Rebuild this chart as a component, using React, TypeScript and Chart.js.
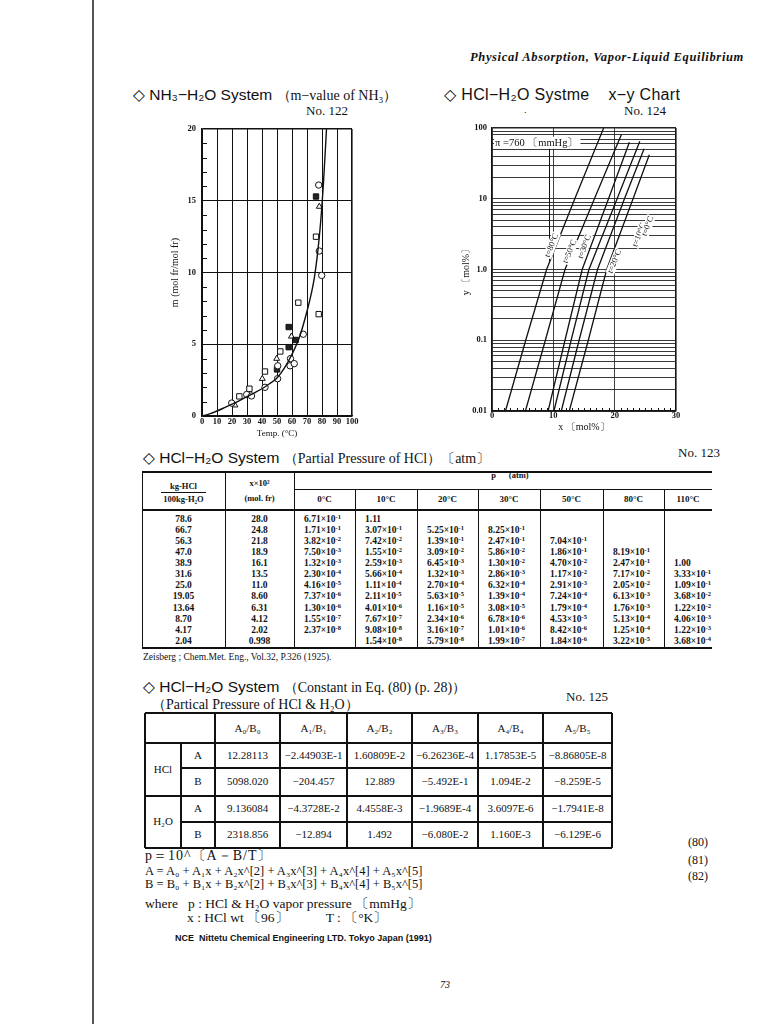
import React, { useEffect, useRef } from 'react';
import { Chart, registerables } from 'chart.js';

Chart.register(...registerables);

const SERIF = '"Liberation Serif", "DejaVu Serif", serif';
const SANS = '"Liberation Sans", "DejaVu Sans", sans-serif';

// ---------------- NH3 - H2O chart (No. 122) ----------------
const nh3CurveTemp = [0, 5, 10, 15, 20, 25, 30, 35, 40, 45, 50, 55, 60, 65, 70, 73, 75, 77, 79, 81, 83];
const nh3CurveM = [0, 0.15, 0.35, 0.58, 0.82, 1.08, 1.35, 1.62, 1.9, 2.25, 2.65, 3.35, 4.3, 5.5, 7.3, 8.6, 9.7, 11.3, 13.4, 16.3, 20];
const nh3CircleTemp = [19.8, 29.8, 33, 42, 50.5, 50.4, 59, 58.7, 61.5, 67.5, 79.8, 78.2, 77.8];
const nh3CircleM = [0.9, 1.5, 1.4, 2.0, 3.5, 2.6, 4.0, 3.5, 3.65, 5.7, 9.8, 11.5, 16.1];
const nh3SquareTemp = [24.9, 31.6, 42, 52.2, 64.2, 77.8, 76];
const nh3SquareM = [1.37, 1.9, 3.1, 4.5, 7.9, 7.1, 12.5];
const nh3FilledTemp = [50, 57.8, 57.8, 62.4, 76];
const nh3FilledM = [3.25, 6.2, 4.8, 5.3, 15.3];
const nh3TriTemp = [22, 40.2, 49.8, 59.6, 78.2];
const nh3TriM = [0.75, 2.6, 4.0, 5.55, 14.6];

// ---------------- HCl - H2O x-y chart (No. 124) ----------------
const hcl80X = [2.2, 5.5, 8.9, 13.5, 18.2];
const hcl80Y = [0.01, 0.1, 1, 10, 100];
const hcl50X = [5.45, 8.7, 11.9, 16.7, 21.1];
const hcl50Y = [0.01, 0.1, 1, 10, 81];
const hcl30X = [9.15, 11.9, 14.7, 19.0, 22.4];
const hcl30Y = [0.01, 0.1, 1, 10, 63];
const hcl20X = [10.1, 12.9, 15.8, 20.4, 24.1];
const hcl20Y = [0.01, 0.1, 1, 10, 65];
const hcl10X = [11.3, 14.2, 17.2, 21.6, 24.8];
const hcl10Y = [0.01, 0.1, 1, 10, 51];
const hcl0X = [12.6, 15.7, 18.7, 23.0, 25.65];
const hcl0Y = [0.01, 0.1, 1, 10, 42];
const hclLabelText = ['t=80°C', 't=50°C', 't=30°C', 't=20°C', 't=10°C', 't=0°C'];
const hclLabelX = [9.75, 12.7, 15.1, 20.0, 24.0, 25.4];
const hclLabelY = [2.2, 1.8, 2.1, 1.3, 3.1, 4.1];
const hclYTickValues = [0.01, 0.1, 1, 10, 100];
const hclYTickLabels = ['0.01', '0.1', '1.0', '10', '100'];
const hclXTickLabels = [0, 10, 20, 30];
const hclPiText = 'π =760 〔mmHg〕';
const hclPiX = 0.5;
const hclPiY = 62;
const hclPiLeaderX = 9.3;
const hclPiLeaderY = [52, 1.3];

// ---------------- Table No. 123 ----------------
const t1Kg = ['78.6', '66.7', '56.3', '47.0', '38.9', '31.6', '25.0', '19.05', '13.64', '8.70', '4.17', '2.04'];
const t1MolFr = ['28.0', '24.8', '21.8', '18.9', '16.1', '13.5', '11.0', '8.60', '6.31', '4.12', '2.02', '0.998'];
const t1Temps = ['0°C', '10°C', '20°C', '30°C', '50°C', '80°C', '110°C'];
const p0C = ['6.71e-1', '1.71e-1', '3.82e-2', '7.50e-3', '1.32e-3', '2.30e-4', '4.16e-5', '7.37e-6', '1.30e-6', '1.55e-7', '2.37e-8', ''];
const p10C = ['1.11', '3.07e-1', '7.42e-2', '1.55e-2', '2.59e-3', '5.66e-4', '1.11e-4', '2.11e-5', '4.01e-6', '7.67e-7', '9.08e-8', '1.54e-8'];
const p20C = ['', '5.25e-1', '1.39e-1', '3.09e-2', '6.45e-3', '1.32e-3', '2.70e-4', '5.63e-5', '1.16e-5', '2.34e-6', '3.16e-7', '5.79e-8'];
const p30C = ['', '8.25e-1', '2.47e-1', '5.86e-2', '1.30e-2', '2.86e-3', '6.32e-4', '1.39e-4', '3.08e-5', '6.78e-6', '1.01e-6', '1.99e-7'];
const p50C = ['', '', '7.04e-1', '1.86e-1', '4.70e-2', '1.17e-2', '2.91e-3', '7.24e-4', '1.79e-4', '4.53e-5', '8.42e-6', '1.84e-6'];
const p80C = ['', '', '', '8.19e-1', '2.47e-1', '7.17e-2', '2.05e-2', '6.13e-3', '1.76e-3', '5.13e-4', '1.25e-4', '3.22e-5'];
const p110C = ['', '', '', '', '1.00', '3.33e-1', '1.09e-1', '3.68e-2', '1.22e-2', '4.06e-3', '1.22e-3', '3.68e-4'];

// ---------------- Table No. 125 ----------------
const t2Headers = ['A₀/B₀', 'A₁/B₁', 'A₂/B₂', 'A₃/B₃', 'A₄/B₄', 'A₅/B₅'];
const hclA = ['12.28113', '−2.44903E-1', '1.60809E-2', '−6.26236E-4', '1.17853E-5', '−8.86805E-8'];
const hclB = ['5098.020', '−204.457', '12.889', '−5.492E-1', '1.094E-2', '−8.259E-5'];
const h2oA = ['9.136084', '−4.3728E-2', '4.4558E-3', '−1.9689E-4', '3.6097E-6', '−1.7941E-8'];
const h2oB = ['2318.856', '−12.894', '1.492', '−6.080E-2', '1.160E-3', '−6.129E-6'];

const pts = (xs: number[], ys: number[]) => xs.map((x, i) => ({ x, y: ys[i] }));

// ---------- layout helpers ----------
function Txt(props: any) {
  const { x, y, size, family = SERIF, weight = 400, italic = false, spacing = 0, color = '#111', children, align } = props;
  const style: any = {
    position: 'absolute', top: y - size * 0.6, fontSize: size, lineHeight: `${size * 1.2}px`,
    fontFamily: family, fontWeight: weight, fontStyle: italic ? 'italic' : 'normal',
    whiteSpace: 'nowrap', letterSpacing: spacing, color,
  };
  if (align === 'center') { style.left = x - 100; style.width = 200; style.textAlign = 'center'; }
  else style.left = x;
  return <div style={style}>{children}</div>;
}

function HLine({ x1, x2, y, w = 1 }: any) {
  return <div style={{ position: 'absolute', left: x1, top: y - w / 2, width: x2 - x1, height: w, background: '#111' }} />;
}
function VLine({ x, y1, y2, w = 1, color = '#111' }: any) {
  return <div style={{ position: 'absolute', left: x - w / 2, top: y1, width: w, height: y2 - y1, background: color }} />;
}

function sci(v: string) {
  if (!v) return null;
  const [m, e] = v.split('e');
  if (!e) return m;
  return (
    <>
      {m}×10<span style={{ fontSize: 6.5, position: 'relative', top: -3, lineHeight: 0 }}>{e}</span>
    </>
  );
}

// ---------- NH3 chart ----------
function NH3Chart() {
  const ref = useRef<HTMLCanvasElement>(null);
  useEffect(() => {
    const innerTicks = {
      id: 'nh3InnerTicks',
      afterDraw(chart: any) {
        const { ctx, chartArea } = chart;
        const ys = chart.scales.y;
        ctx.save();
        ctx.strokeStyle = '#111';
        ctx.lineWidth = 1;
        ys.ticks.forEach((t: any) => {
          if (t.value % 5 === 0) return;
          const p = Math.round(ys.getPixelForValue(t.value)) + 0.5;
          ctx.beginPath();
          ctx.moveTo(chartArea.left, p);
          ctx.lineTo(chartArea.left + 5, p);
          ctx.stroke();
        });
        ctx.restore();
      },
    };
    const tickFont = { family: SERIF, size: 8.5, weight: 'bold' as const };
    const chart = new Chart(ref.current!, {
      type: 'scatter',
      data: {
        datasets: [
          { type: 'line', data: pts(nh3CurveTemp, nh3CurveM), borderColor: '#111', borderWidth: 1.4, pointRadius: 0, cubicInterpolationMode: 'monotone', fill: false } as any,
          { data: pts(nh3CircleTemp, nh3CircleM), pointStyle: 'circle', pointRadius: 3.2, backgroundColor: '#fff', borderColor: '#111', borderWidth: 1 },
          { data: pts(nh3SquareTemp, nh3SquareM), pointStyle: 'rect', pointRadius: 3.8, backgroundColor: '#fff', borderColor: '#111', borderWidth: 1 },
          { data: pts(nh3FilledTemp, nh3FilledM), pointStyle: 'rect', pointRadius: 3.8, backgroundColor: '#222', borderColor: '#111', borderWidth: 1 },
          { data: pts(nh3TriTemp, nh3TriM), pointStyle: 'triangle', pointRadius: 3.4, backgroundColor: '#fff', borderColor: '#111', borderWidth: 1 },
        ],
      },
      options: {
        responsive: false,
        animation: false,
        layout: { padding: { left: 0, top: 7, right: 8, bottom: 0 }, autoPadding: false },
        plugins: { legend: { display: false }, tooltip: { enabled: false } },
        scales: {
          x: {
            type: 'linear', min: 0, max: 100,
            afterFit: (s: any) => { s.height = 32; },
            ticks: { stepSize: 10, padding: 1, font: tickFont, color: '#111', autoSkip: false, maxRotation: 0 },
            grid: { color: '#111', lineWidth: (c: any) => (c.tick && c.tick.value === 100 ? 1.6 : 1), drawTicks: false },
            border: { color: '#111', width: 1.6 },
            title: { display: true, text: 'Temp. (°C)', color: '#111', font: { family: SERIF, size: 9 }, padding: { top: 0, bottom: 9 } },
          },
          y: {
            type: 'linear', min: 0, max: 20,
            afterFit: (s: any) => { s.width = 42; },
            ticks: { stepSize: 1, padding: 6, autoSkip: false, font: tickFont, color: '#111', callback: (v: any) => (v % 5 === 0 ? String(v) : '') },
            grid: {
              color: (c: any) => (c.tick && c.tick.value % 5 === 0 ? '#111' : 'rgba(0,0,0,0)'),
              lineWidth: (c: any) => (c.tick && c.tick.value === 20 ? 1.6 : 1),
              drawTicks: false,
            },
            border: { color: '#111', width: 1.6 },
            title: { display: true, text: 'm (mol fr/mol fr)', color: '#111', font: { family: SERIF, size: 10 }, padding: { top: 9, bottom: 0 } },
          },
        },
      },
      plugins: [innerTicks],
    });
    return () => chart.destroy();
  }, []);
  return <canvas ref={ref} width={200} height={330} style={{ position: 'absolute', left: 160, top: 118 }} />;
}

// ---------- HCl x-y chart ----------
function HClChart() {
  const ref = useRef<HTMLCanvasElement>(null);
  useEffect(() => {
    const gridValues: number[] = [];
    hclYTickValues.slice(0, -1).forEach((d) => {
      for (let m = 1; m <= 9; m++) gridValues.push(m === 1 ? d : d * m);
    });
    gridValues.push(hclYTickValues[hclYTickValues.length - 1]);

    const decor = {
      id: 'hclDecor',
      afterDatasetsDraw(chart: any) {
        const { ctx, chartArea } = chart;
        const xs = chart.scales.x;
        const ys = chart.scales.y;
        ctx.save();
        ctx.strokeStyle = '#111';
        ctx.lineWidth = 1;
        xs.ticks.forEach((t: any) => {
          if (t.value % 10 === 0) return;
          const p = Math.round(xs.getPixelForValue(t.value)) + 0.5;
          ctx.beginPath();
          ctx.moveTo(p, chartArea.bottom);
          ctx.lineTo(p, chartArea.bottom - 3);
          ctx.stroke();
        });
        const lx = Math.round(xs.getPixelForValue(hclPiLeaderX)) + 0.5;
        ctx.beginPath();
        ctx.moveTo(lx, ys.getPixelForValue(hclPiLeaderY[0]));
        ctx.lineTo(lx, ys.getPixelForValue(hclPiLeaderY[1]));
        ctx.stroke();
        ctx.font = `10.5px ${SERIF}`;
        const px = xs.getPixelForValue(hclPiX);
        const py = ys.getPixelForValue(hclPiY);
        const w = ctx.measureText(hclPiText).width;
        ctx.fillStyle = '#fff';
        ctx.fillRect(px - 1, py - 6, w + 3, 12);
        ctx.fillStyle = '#111';
        ctx.textBaseline = 'middle';
        ctx.textAlign = 'left';
        ctx.fillText(hclPiText, px, py);
        ctx.font = `8.5px ${SERIF}`;
        hclLabelText.forEach((txt, i) => {
          const data = chart.getDatasetMeta(i).data;
          const ly = ys.getPixelForValue(hclLabelY[i]);
          let a = data[0], b = data[1];
          for (let k = 0; k < data.length - 1; k++) {
            if (data[k].y >= ly && data[k + 1].y <= ly) { a = data[k]; b = data[k + 1]; }
          }
          const ang = Math.atan2(b.y - a.y, b.x - a.x);
          const lxp = xs.getPixelForValue(hclLabelX[i]);
          ctx.save();
          ctx.translate(lxp, ly);
          ctx.rotate(ang);
          const tw = ctx.measureText(txt).width;
          ctx.fillStyle = '#fff';
          ctx.fillRect(-tw / 2 - 1, -4.5, tw + 2, 9);
          ctx.fillStyle = '#111';
          ctx.textAlign = 'center';
          ctx.textBaseline = 'middle';
          ctx.fillText(txt, 0, 0);
          ctx.restore();
        });
        ctx.restore();
      },
    };
    const tickFont = { family: SERIF, size: 8.5, weight: 'bold' as const };
    const lineDs = (xs: number[], ys: number[]) => ({
      data: pts(xs, ys), borderColor: '#111', borderWidth: 1.3, pointRadius: 0, fill: false, tension: 0,
    });
    const chart = new Chart(ref.current!, {
      type: 'line',
      data: {
        datasets: [
          lineDs(hcl80X, hcl80Y), lineDs(hcl50X, hcl50Y), lineDs(hcl30X, hcl30Y),
          lineDs(hcl20X, hcl20Y), lineDs(hcl10X, hcl10Y), lineDs(hcl0X, hcl0Y),
        ],
      },
      options: {
        responsive: false,
        animation: false,
        parsing: false as any,
        layout: { padding: { left: 0, top: 7, right: 9, bottom: 0 }, autoPadding: false },
        plugins: { legend: { display: false }, tooltip: { enabled: false } },
        scales: {
          x: {
            type: 'linear', min: 0, max: 30,
            afterFit: (s: any) => { s.height = 27; },
            ticks: {
              stepSize: 1, autoSkip: false, padding: 0, maxRotation: 0, font: tickFont, color: '#111',
              callback: (v: any) => (hclXTickLabels.includes(v) ? String(v) : ''),
            },
            grid: {
              color: (c: any) => (c.tick && c.tick.value % 10 === 0 ? '#111' : 'rgba(0,0,0,0)'),
              lineWidth: (c: any) => (c.tick && (c.tick.value === 0 || c.tick.value === 30) ? 1.6 : 0.8),
              drawTicks: false,
            },
            border: { color: '#111', width: 1.6 },
            title: { display: true, text: 'x 〔mol%〕', color: '#111', font: { family: SERIF, size: 10 }, padding: { top: 0, bottom: 5 } },
          },
          y: {
            type: 'logarithmic', min: 0.01, max: 100,
            afterFit: (s: any) => { s.width = 47; },
            afterBuildTicks: (s: any) => { s.ticks = gridValues.map((v) => ({ value: v })); },
            ticks: {
              autoSkip: false, padding: 5, font: tickFont, color: '#111',
              callback: (v: any) => {
                const i = hclYTickValues.indexOf(v);
                return i >= 0 ? hclYTickLabels[i] : '';
              },
            },
            grid: {
              color: '#222',
              lineWidth: (c: any) => (c.tick && c.tick.value === 100 ? 1.6 : 0.9),
              drawTicks: false,
            },
            border: { color: '#111', width: 1.6 },
            title: { display: true, text: 'y 〔mol%〕', color: '#111', font: { family: SERIF, size: 10 }, padding: { top: 15, bottom: 0 } },
          },
        },
      },
      plugins: [decor],
    });
    return () => chart.destroy();
  }, []);
  return <canvas ref={ref} width={240} height={320} style={{ position: 'absolute', left: 445, top: 118 }} />;
}

// ---------- Table No. 123 ----------
function Table123() {
  const edges = [142, 225, 294, 355, 417, 478, 540, 603, 664, 712];
  const cols = [t1Kg, t1MolFr, p0C, p10C, p20C, p30C, p50C, p80C, p110C];
  const bodyTop = 513.5;
  const rowH = 11.15;
  const f = { fontFamily: SERIF, fontWeight: 700, fontSize: 9.5, color: '#111' };
  return (
    <>
      <HLine x1={142} x2={712} y={472} w={2} />
      <HLine x1={294} x2={712} y={489} w={1} />
      <HLine x1={142} x2={712} y={510} w={1.6} />
      <HLine x1={142} x2={712} y={648} w={2} />
      {edges.slice(0, -1).map((x, i) => (
        <VLine key={i} x={x} y1={i >= 3 ? 489 : 472} y2={648} w={1} />
      ))}
      <Txt x={183.5} y={486} size={8.5} weight={700} align="center">kg-HCl</Txt>
      <HLine x1={161} x2={206} y={492.5} w={1} />
      <Txt x={183.5} y={499} size={8.5} weight={700} align="center">100kg-H₂O</Txt>
      <Txt x={259.5} y={483} size={8.5} weight={700} align="center">x×10²</Txt>
      <Txt x={259.5} y={498} size={8.5} weight={700} align="center">(mol. fr)</Txt>
      <Txt x={510} y={475} size={8.5} weight={700} align="center">p&nbsp;&nbsp;&nbsp;&nbsp;&nbsp;&nbsp;(atm)</Txt>
      {t1Temps.map((t, i) => (
        <Txt key={t} x={(edges[i + 2] + edges[i + 3]) / 2} y={499} size={9} weight={700} align="center">{t}</Txt>
      ))}
      {cols.map((col, ci) => (
        <div key={ci} style={{ position: 'absolute', top: bodyTop, left: ci < 2 ? edges[ci] : edges[ci] + 10, width: ci < 2 ? edges[ci + 1] - edges[ci] : 60, textAlign: ci < 2 ? 'center' : 'left' }}>
          {col.map((v, ri) => (
            <div key={ri} style={{ ...f, height: rowH, lineHeight: `${rowH}px`, whiteSpace: 'nowrap' }}>{sci(v)}</div>
          ))}
        </div>
      ))}
      <Txt x={143} y={658} size={9.5}>Zeisberg ; Chem.Met. Eng., Vol.32, P.326 (1925).</Txt>
    </>
  );
}

// ---------- Table No. 125 ----------
function Table125() {
  const xs = [145, 181, 215, 280, 347, 412, 478, 543, 612];
  const ys = [713, 743, 768, 796, 822, 848];
  const rows = [hclA, hclB, h2oA, h2oB];
  const rowLab = ['A', 'B', 'A', 'B'];
  const cellFont = 11;
  return (
    <>
      {ys.map((y, i) => (
        <HLine key={'h' + i} x1={i === 2 || i === 4 ? 181 : 145} x2={612} y={y} w={1.4} />
      ))}
      {xs.map((x, i) => (
        <VLine key={'v' + i} x={x} y1={i === 1 ? 743 : 713} y2={848} w={1.4} />
      ))}
      {t2Headers.map((h, i) => (
        <Txt key={h} x={(xs[i + 2] + xs[i + 3]) / 2} y={729} size={cellFont} align="center">{h}</Txt>
      ))}
      <Txt x={163} y={770} size={cellFont} align="center">HCl</Txt>
      <Txt x={163} y={822} size={cellFont} align="center">H₂O</Txt>
      {rows.map((r, ri) => (
        <React.Fragment key={ri}>
          <Txt x={198} y={(ys[ri + 1] + ys[ri + 2]) / 2} size={cellFont} align="center">{rowLab[ri]}</Txt>
          {r.map((v, ci) => (
            <Txt key={ci} x={(xs[ci + 2] + xs[ci + 3]) / 2} y={(ys[ri + 1] + ys[ri + 2]) / 2} size={cellFont} align="center">{v}</Txt>
          ))}
        </React.Fragment>
      ))}
    </>
  );
}

export default function App() {
  return (
    <div style={{ position: 'absolute', left: 0, top: 0, width: 768, height: 1024, background: '#fff', overflow: 'hidden', color: '#111' }}>
      <VLine x={93} y1={0} y2={1024} w={1.2} color="#555" />
      <Txt x={470} y={57} size={12.5} weight={700} italic spacing={0.65}>Physical Absorption, Vapor-Liquid Equilibrium</Txt>

      {/* NH3 chart titles */}
      <Txt x={133} y={95} size={15.5} family={SANS}>◇ NH₃−H₂O System <span style={{ fontFamily: SERIF, fontSize: 14 }}>（m−value of NH₃）</span></Txt>
      <Txt x={306} y={111} size={13}>No. 122</Txt>
      <NH3Chart />

      {/* HCl chart titles */}
      <Txt x={444} y={95} size={16} family={SANS} spacing={0.3}>◇ HCl−H₂O Systme&nbsp;&nbsp;&nbsp;&nbsp;x−y Chart</Txt>
      <Txt x={524} y={110} size={10}>.</Txt>
      <Txt x={624} y={111} size={13}>No. 124</Txt>
      <HClChart />

      {/* Table 123 */}
      <Txt x={143} y={458} size={15.5} family={SANS}>◇ HCl−H₂O System <span style={{ fontFamily: SERIF, fontSize: 14 }}>（Partial Pressure of HCl）〔atm〕</span></Txt>
      <Txt x={678} y={453} size={13}>No. 123</Txt>
      <Table123 />

      {/* Table 125 */}
      <Txt x={143} y={687} size={15.5} family={SANS}>◇ HCl−H₂O System <span style={{ fontFamily: SERIF, fontSize: 14 }}>（Constant in Eq. (80) (p. 28)）</span></Txt>
      <Txt x={152} y={705} size={14}>（Partical Pressure of HCl &amp; H₂O）</Txt>
      <Txt x={566} y={697} size={13}>No. 125</Txt>
      <Table125 />

      <Txt x={145} y={856} size={14} spacing={1}>p＝10^〔A－B/T〕</Txt>
      <Txt x={145} y={871} size={12.5}>A = A₀ + A₁x + A₂x^[2] + A₃x^[3] + A₄x^[4] + A₅x^[5]</Txt>
      <Txt x={145} y={884} size={12.5}>B = B₀ + B₁x + B₂x^[2] + B₃x^[3] + B₄x^[4] + B₅x^[5]</Txt>
      <Txt x={145} y={904} size={13.5}>where&nbsp;&nbsp;&nbsp;p : HCl &amp; H₂O vapor pressure 〔mmHg〕</Txt>
      <Txt x={187} y={918} size={13.5}>x : HCl wt 〔96〕&nbsp;&nbsp;&nbsp;&nbsp;&nbsp;&nbsp;&nbsp;&nbsp;&nbsp;&nbsp;&nbsp;T : 〔°K〕</Txt>
      <Txt x={688} y={842} size={12}>(80)</Txt>
      <Txt x={688} y={860} size={12}>(81)</Txt>
      <Txt x={688} y={876} size={12}>(82)</Txt>
      <Txt x={175} y={938} size={9} family={SANS} weight={700}>NCE&nbsp;&nbsp;Nittetu Chemical Engineering LTD. Tokyo Japan (1991)</Txt>
      <Txt x={440} y={985} size={10} italic>73</Txt>
    </div>
  );
}
